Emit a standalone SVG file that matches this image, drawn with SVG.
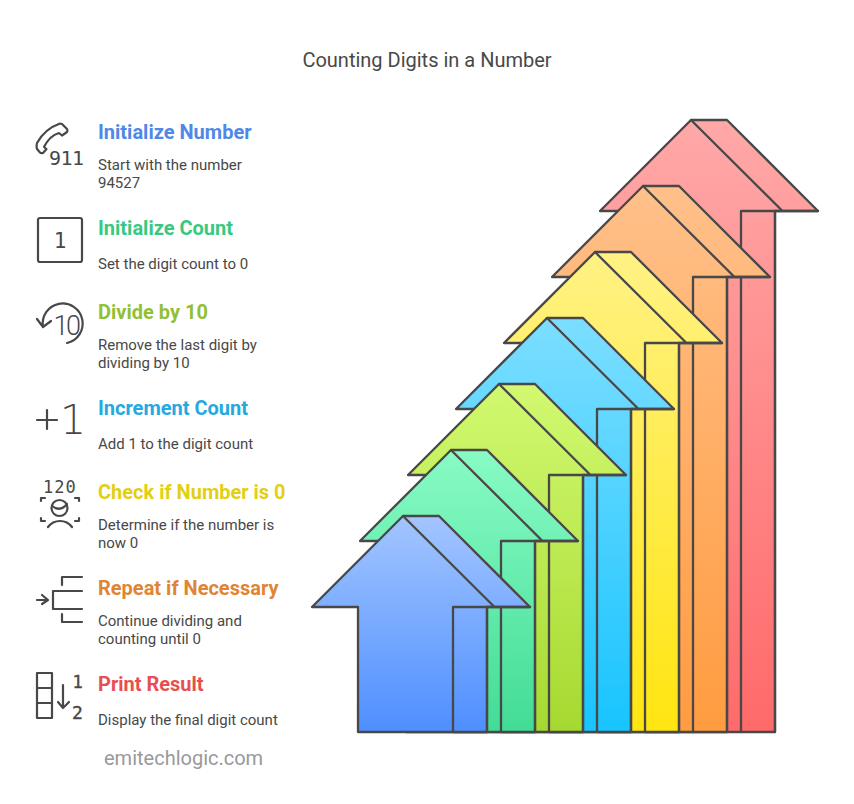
<svg xmlns="http://www.w3.org/2000/svg" width="854" height="804" viewBox="0 0 854 804">
<style>
text{font-family:Roboto,"Liberation Sans",sans-serif}
.t{font-size:20px;fill:#484848}
.h{font-size:20px;font-weight:700}
.b{font-size:15px;fill:#484848}
.w{font-size:20px;fill:#999}
.a{stroke:#484848;stroke-width:2.3;stroke-linejoin:round;stroke-linecap:round}
.l{fill:none}
.i{fill:none;stroke:#484848;stroke-width:2.2;stroke-linecap:round;stroke-linejoin:round}
.d{fill:#484848;font-family:"DejaVu Sans Mono","Liberation Mono",monospace}
.s{stroke:#484848;stroke-width:0.4}
</style>
<defs>
<linearGradient id="g1" gradientUnits="userSpaceOnUse" x1="0" y1="516" x2="0" y2="732"><stop offset="0" stop-color="#a3c5ff"/><stop offset="1" stop-color="#4e8fff"/></linearGradient>
<linearGradient id="g2" gradientUnits="userSpaceOnUse" x1="0" y1="450" x2="0" y2="732"><stop offset="0" stop-color="#88fbc4"/><stop offset="1" stop-color="#42dc96"/></linearGradient>
<linearGradient id="g3" gradientUnits="userSpaceOnUse" x1="0" y1="384" x2="0" y2="732"><stop offset="0" stop-color="#d2f970"/><stop offset="1" stop-color="#a6d930"/></linearGradient>
<linearGradient id="g4" gradientUnits="userSpaceOnUse" x1="0" y1="318" x2="0" y2="732"><stop offset="0" stop-color="#7cdeff"/><stop offset="1" stop-color="#18c4ff"/></linearGradient>
<linearGradient id="g5" gradientUnits="userSpaceOnUse" x1="0" y1="252" x2="0" y2="732"><stop offset="0" stop-color="#fff284"/><stop offset="1" stop-color="#ffe510"/></linearGradient>
<linearGradient id="g6" gradientUnits="userSpaceOnUse" x1="0" y1="186" x2="0" y2="732"><stop offset="0" stop-color="#ffc08a"/><stop offset="1" stop-color="#ff9c40"/></linearGradient>
<linearGradient id="g7" gradientUnits="userSpaceOnUse" x1="0" y1="120" x2="0" y2="732"><stop offset="0" stop-color="#ffa8a8"/><stop offset="1" stop-color="#ff6a6a"/></linearGradient>
</defs>
<rect width="854" height="804" fill="#fff"/>
<text id="title" class="t" x="427" y="67" text-anchor="middle">Counting Digits in a Number</text>
<g id="arrow-print">
<path class="a" fill="url(#g7)" d="M600 211L691 120H727L818 211H775V732H646V211Z"/>
<path class="a l" d="M691 120L782.500 211M741 732V211H818M775 211V732"/>
</g>
<g id="arrow-repeat">
<path class="a" fill="url(#g6)" d="M552 277L643 186H679L770 277H727V732H598V277Z"/>
<path class="a l" d="M643 186L734.500 277M693 732V277H770M727 277V732"/>
</g>
<g id="arrow-check">
<path class="a" fill="url(#g5)" d="M504 343L595 252H631L722 343H679V732H550V343Z"/>
<path class="a l" d="M595 252L686.500 343M645 732V343H722M679 343V732"/>
</g>
<g id="arrow-increment">
<path class="a" fill="url(#g4)" d="M456 409L547 318H583L674 409H631V732H502V409Z"/>
<path class="a l" d="M547 318L638.500 409M597 732V409H674M631 409V732"/>
</g>
<g id="arrow-divide">
<path class="a" fill="url(#g3)" d="M408 475L499 384H535L626 475H583V732H454V475Z"/>
<path class="a l" d="M499 384L590.500 475M549 732V475H626M583 475V732"/>
</g>
<g id="arrow-count">
<path class="a" fill="url(#g2)" d="M360 541L451 450H487L578 541H535V732H406V541Z"/>
<path class="a l" d="M451 450L542.500 541M501 732V541H578M535 541V732"/>
</g>
<g id="arrow-number">
<path class="a" fill="url(#g1)" d="M312 607L403 516H439L530 607H487V732H358V607Z"/>
<path class="a l" d="M403 516L494.500 607M453 732V607H530M487 607V732"/>
</g>
<g id="step-number">
<path class="i" d="M37 143C42 134 50 127 60 123.500L62 124L67 129Q68 131 67 132L62 135.500L59 133C52 135 47 141 44 147L46.500 149L43 153Q41 153.500 40 152.500L37 149Q36 146 37 143Z"/>
<text class="d" x="49" y="165" font-size="20" letter-spacing="-0.6">911</text>
<text class="h" x="98" y="139" fill="#4f88e8">Initialize Number</text>
<text class="b" x="98" y="170">Start with the number</text>
<text class="b" x="98" y="188">94527</text>
</g>
<g id="step-count">
<rect class="i" x="38" y="218" width="44" height="44" rx="2"/>
<text class="d" x="60" y="248" font-size="21" text-anchor="middle">1</text>
<text class="h" x="98" y="235" fill="#38c980">Initialize Count</text>
<text class="b" x="98" y="269">Set the digit count to 0</text>
</g>
<g id="step-divide">
<path class="i" d="M43 327A20 20 0 1 1 67 343M37 319L43 327L51 321"/>
<text x="66" y="335" font-size="27" letter-spacing="-2.5" text-anchor="middle" fill="#484848" font-weight="300">10</text>
<text class="h" x="98" y="319" fill="#93bf35">Divide by 10</text>
<text class="b" x="98" y="350">Remove the last digit by</text>
<text class="b" x="98" y="368">dividing by 10</text>
</g>
<g id="step-increment">
<path class="i" d="M37 420H57M47 410V429"/>
<text x="73" y="434" font-size="41" text-anchor="middle" fill="#484848" font-weight="200" style="font-family:'DejaVu Sans',sans-serif">1</text>
<text class="h" x="98" y="415" fill="#24a9e0">Increment Count</text>
<text class="b" x="98" y="449">Add 1 to the digit count</text>
</g>
<g id="step-check">
<text class="d" x="43" y="493" font-size="17" letter-spacing="1">120</text>
<path class="i" d="M41 501V498H45M75 498H79V501M41 518V521H45M75 521H79V518M48 527C54 519 66 519 72 527"/>
<circle class="i" cx="59.500" cy="508" r="8"/>
<path class="i" d="M52 506C57 510 62 510 67 504"/>
<text class="h" x="98" y="499" fill="#e3cf12">Check if Number is 0</text>
<text class="b" x="98" y="530">Determine if the number is</text>
<text class="b" x="98" y="548">now 0</text>
</g>
<g id="step-repeat">
<path class="i" d="M37 600H48M42 595L48 600L42 604"/>
<path class="i" d="M82 591H53V609H82M62 585V577H82M62 614V622H82"/>
<text class="h" x="98" y="595" fill="#e08435">Repeat if Necessary</text>
<text class="b" x="98" y="626">Continue dividing and</text>
<text class="b" x="98" y="644">counting until 0</text>
</g>
<g id="step-print">
<rect class="i" x="37" y="673" width="15" height="45"/>
<path class="i" d="M37 688H52M37 703H52M63 685V708M58 702L63 708L69 702"/>
<text class="d s" x="77.500" y="688" font-size="17" text-anchor="middle">1</text>
<text class="d s" x="77.500" y="719" font-size="18" text-anchor="middle">2</text>
<text class="h" x="98" y="691" fill="#e75050">Print Result</text>
<text class="b" x="98" y="725">Display the final digit count</text>
</g>
<text id="watermark" class="w" x="104" y="765">emitechlogic.com</text>
</svg>
